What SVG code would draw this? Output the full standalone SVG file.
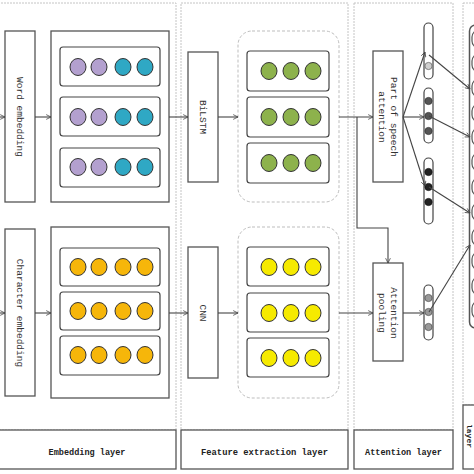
<svg xmlns="http://www.w3.org/2000/svg" width="474" height="474" viewBox="0 0 474 474">
<defs>
<marker id="arr" viewBox="0 0 10 10" refX="9" refY="5" markerWidth="6" markerHeight="6" orient="auto" markerUnits="userSpaceOnUse">
<path d="M1,1 L9,5 L1,9" fill="none" stroke="#444" stroke-width="1.3"/>
</marker>
<style>
.panel{fill:none;stroke:#c4c4c4;stroke-width:1;stroke-dasharray:2,1}
.box{fill:#fff;stroke:#555;stroke-width:1.3}
.row{fill:#fff;stroke:#444;stroke-width:1.2}
.dgrp{fill:none;stroke:#bdbdbd;stroke-width:1;stroke-dasharray:3,2}
.c{stroke:#333;stroke-width:1}
.pu{fill:#b3a0cf}.te{fill:#2fa8c4}.or{fill:#f6b60a}.gr{fill:#8db24c}.ye{fill:#f6ea00}
.cap{fill:#fff;stroke:#444;stroke-width:1.2}
.vt{font-family:"Liberation Mono",monospace;font-size:9.5px;fill:#333}
.lab{font-family:"Liberation Mono",monospace;font-size:9.5px;fill:#222;font-weight:bold}
.ln{fill:none;stroke:#444;stroke-width:1.1}
.cell{fill:#fff;stroke:#555;stroke-width:1.2}
</style>
</defs>
<rect width="474" height="474" fill="#fff"/>

<g id="panels">
<rect class="panel" x="-2" y="3" width="178" height="427"/>
<rect class="panel" x="181" y="3" width="167" height="427"/>
<rect class="panel" x="354" y="3" width="99" height="427"/>
<rect class="panel" x="463" y="3" width="20" height="402"/>
</g>

<g id="word-embedding">
<rect class="box" x="5" y="31" width="30" height="171"/>
<text class="vt" transform="translate(17,117) rotate(90)" text-anchor="middle">Word embedding</text>
</g>
<g id="word-vectors">
<rect class="box" x="51" y="31" width="118" height="171"/>
<rect class="row" x="60" y="47" width="100" height="39" rx="3"/>
<rect class="row" x="60" y="97" width="100" height="39" rx="3"/>
<rect class="row" x="60" y="148" width="100" height="39" rx="3"/>
<ellipse class="c pu" cx="78" cy="67" rx="8" ry="8.5"/><ellipse class="c pu" cx="99" cy="67" rx="8" ry="8.5"/><ellipse class="c te" cx="123" cy="67" rx="8" ry="8.5"/><ellipse class="c te" cx="145" cy="67" rx="8" ry="8.5"/>
<ellipse class="c pu" cx="78" cy="117" rx="8" ry="8.5"/><ellipse class="c pu" cx="99" cy="117" rx="8" ry="8.5"/><ellipse class="c te" cx="123" cy="117" rx="8" ry="8.5"/><ellipse class="c te" cx="145" cy="117" rx="8" ry="8.5"/>
<ellipse class="c pu" cx="78" cy="167" rx="8" ry="8.5"/><ellipse class="c pu" cx="99" cy="167" rx="8" ry="8.5"/><ellipse class="c te" cx="123" cy="167" rx="8" ry="8.5"/><ellipse class="c te" cx="145" cy="167" rx="8" ry="8.5"/>
</g>

<g id="char-embedding">
<rect class="box" x="5" y="229" width="30" height="167"/>
<text class="vt" transform="translate(17,313) rotate(90)" text-anchor="middle">Character embedding</text>
</g>
<g id="char-vectors">
<rect class="box" x="51" y="227" width="118" height="171"/>
<rect class="row" x="60" y="248" width="100" height="38" rx="3"/>
<rect class="row" x="60" y="292" width="100" height="38" rx="3"/>
<rect class="row" x="60" y="336" width="100" height="39" rx="3"/>
<ellipse class="c or" cx="78" cy="267" rx="8" ry="8.5"/><ellipse class="c or" cx="99" cy="267" rx="8" ry="8.5"/><ellipse class="c or" cx="123" cy="267" rx="8" ry="8.5"/><ellipse class="c or" cx="145" cy="267" rx="8" ry="8.5"/>
<ellipse class="c or" cx="78" cy="311" rx="8" ry="8.5"/><ellipse class="c or" cx="99" cy="311" rx="8" ry="8.5"/><ellipse class="c or" cx="123" cy="311" rx="8" ry="8.5"/><ellipse class="c or" cx="145" cy="311" rx="8" ry="8.5"/>
<ellipse class="c or" cx="78" cy="355" rx="8" ry="8.5"/><ellipse class="c or" cx="99" cy="355" rx="8" ry="8.5"/><ellipse class="c or" cx="123" cy="355" rx="8" ry="8.5"/><ellipse class="c or" cx="145" cy="355" rx="8" ry="8.5"/>
</g>

<g id="bilstm">
<rect class="box" x="188" y="52" width="30" height="130"/>
<text class="vt" transform="translate(200,117) rotate(90)" text-anchor="middle">BiLSTM</text>
</g>
<g id="bilstm-out">
<rect class="dgrp" x="238" y="31" width="101" height="171" rx="14"/>
<rect class="row" x="247" y="51" width="82" height="40" rx="3"/>
<rect class="row" x="247" y="97" width="82" height="40" rx="3"/>
<rect class="row" x="247" y="143" width="82" height="40" rx="3"/>
<ellipse class="c gr" cx="269" cy="71" rx="8" ry="8.5"/><ellipse class="c gr" cx="291" cy="71" rx="8" ry="8.5"/><ellipse class="c gr" cx="313" cy="71" rx="8" ry="8.5"/>
<ellipse class="c gr" cx="269" cy="117" rx="8" ry="8.5"/><ellipse class="c gr" cx="291" cy="117" rx="8" ry="8.5"/><ellipse class="c gr" cx="313" cy="117" rx="8" ry="8.5"/>
<ellipse class="c gr" cx="269" cy="163" rx="8" ry="8.5"/><ellipse class="c gr" cx="291" cy="163" rx="8" ry="8.5"/><ellipse class="c gr" cx="313" cy="163" rx="8" ry="8.5"/>
</g>

<g id="cnn">
<rect class="box" x="188" y="247" width="30" height="131"/>
<text class="vt" transform="translate(200,313) rotate(90)" text-anchor="middle">CNN</text>
</g>
<g id="cnn-out">
<rect class="dgrp" x="238" y="227" width="101" height="171" rx="14"/>
<rect class="row" x="247" y="247" width="82" height="39" rx="3"/>
<rect class="row" x="247" y="293" width="82" height="39" rx="3"/>
<rect class="row" x="247" y="338" width="82" height="39" rx="3"/>
<ellipse class="c ye" cx="269" cy="267" rx="8" ry="8.5"/><ellipse class="c ye" cx="291" cy="267" rx="8" ry="8.5"/><ellipse class="c ye" cx="313" cy="267" rx="8" ry="8.5"/>
<ellipse class="c ye" cx="269" cy="313" rx="8" ry="8.5"/><ellipse class="c ye" cx="291" cy="313" rx="8" ry="8.5"/><ellipse class="c ye" cx="313" cy="313" rx="8" ry="8.5"/>
<ellipse class="c ye" cx="269" cy="358" rx="8" ry="8.5"/><ellipse class="c ye" cx="291" cy="358" rx="8" ry="8.5"/><ellipse class="c ye" cx="313" cy="358" rx="8" ry="8.5"/>
</g>

<g id="pos-attention">
<rect class="box" x="373" y="51" width="30" height="131"/>
<text class="vt" transform="translate(391,117) rotate(90)" text-anchor="middle">Part of speech</text>
<text class="vt" transform="translate(379,117) rotate(90)" text-anchor="middle">attention</text>
</g>
<g id="attention-pooling">
<rect class="box" x="373" y="263" width="30" height="98"/>
<text class="vt" transform="translate(391,313) rotate(90)" text-anchor="middle">Attention</text>
<text class="vt" transform="translate(379,313) rotate(90)" text-anchor="middle">pooling</text>
</g>

<g id="capsule-1">
<rect class="cap" x="424" y="23" width="9" height="56" rx="4.5"/>
<circle cx="428.5" cy="66" r="3.6" fill="#cfcfcf" stroke="#666" stroke-width="0.8"/>
</g>
<g id="capsule-2">
<rect class="cap" x="424" y="88" width="9" height="55" rx="4.5"/>
<circle cx="428.5" cy="101" r="3.6" fill="#555" stroke="#333" stroke-width="0.8"/>
<circle cx="428.5" cy="116" r="3.6" fill="#555" stroke="#333" stroke-width="0.8"/>
<circle cx="428.5" cy="131" r="3.6" fill="#555" stroke="#333" stroke-width="0.8"/>
</g>
<g id="capsule-3">
<rect class="cap" x="424" y="158" width="9" height="66" rx="4.5"/>
<circle cx="428.5" cy="172" r="3.6" fill="#222" stroke="#111" stroke-width="0.8"/>
<circle cx="428.5" cy="187" r="3.6" fill="#222" stroke="#111" stroke-width="0.8"/>
<circle cx="428.5" cy="202" r="3.6" fill="#222" stroke="#111" stroke-width="0.8"/>
</g>
<g id="capsule-4">
<rect class="cap" x="424" y="285" width="9" height="55" rx="4.5"/>
<circle cx="428.5" cy="298" r="3.6" fill="#999" stroke="#555" stroke-width="0.8"/>
<circle cx="428.5" cy="312" r="3.6" fill="#999" stroke="#555" stroke-width="0.8"/>
<circle cx="428.5" cy="327" r="3.6" fill="#999" stroke="#555" stroke-width="0.8"/>
</g>

<g id="output-column">
<rect x="469.5" y="25" width="20" height="303" rx="6" fill="#fff" stroke="#555" stroke-width="1.5"/>
<rect class="cell" x="472" y="30" width="15" height="18" rx="7"/>
<rect class="cell" x="472" y="54" width="15" height="18" rx="7"/>
<rect class="cell" x="472" y="79" width="15" height="18" rx="7"/>
<rect class="cell" x="472" y="104" width="15" height="18" rx="7"/>
<rect class="cell" x="472" y="128" width="15" height="18" rx="7"/>
<rect class="cell" x="472" y="153" width="15" height="18" rx="7"/>
<rect class="cell" x="472" y="178" width="15" height="18" rx="7"/>
<rect class="cell" x="472" y="203" width="15" height="18" rx="7"/>
<rect class="cell" x="472" y="228" width="15" height="18" rx="7"/>
<rect class="cell" x="472" y="252" width="15" height="18" rx="7"/>
<rect class="cell" x="472" y="277" width="15" height="18" rx="7"/>
<rect class="cell" x="472" y="301" width="15" height="18" rx="7"/>
</g>

<g id="connectors">
<line class="ln" x1="-2" y1="117" x2="5" y2="117" marker-end="url(#arr)"/>
<line class="ln" x1="35" y1="117" x2="51" y2="117" marker-end="url(#arr)"/>
<line class="ln" x1="-2" y1="313" x2="5" y2="313" marker-end="url(#arr)"/>
<line class="ln" x1="35" y1="313" x2="51" y2="313" marker-end="url(#arr)"/>
<line class="ln" x1="169" y1="117" x2="188" y2="117" marker-end="url(#arr)"/>
<line class="ln" x1="218" y1="117" x2="238" y2="117" marker-end="url(#arr)"/>
<line class="ln" x1="169" y1="313" x2="188" y2="313" marker-end="url(#arr)"/>
<line class="ln" x1="218" y1="313" x2="238" y2="313" marker-end="url(#arr)"/>
<line class="ln" x1="339" y1="117" x2="373" y2="117" marker-end="url(#arr)"/>
<polyline class="ln" points="357,117 357,228 388,228 388,263" marker-end="url(#arr)"/>
<line class="ln" x1="339" y1="313" x2="373" y2="313" marker-end="url(#arr)"/>
<line class="ln" x1="403" y1="117" x2="425" y2="52" marker-end="url(#arr)"/>
<line class="ln" x1="403" y1="117" x2="424" y2="117" marker-end="url(#arr)"/>
<line class="ln" x1="403" y1="117" x2="425" y2="186" marker-end="url(#arr)"/>
<line class="ln" x1="403" y1="313" x2="424" y2="313" marker-end="url(#arr)"/>
<line class="ln" x1="429" y1="55" x2="470" y2="89" marker-end="url(#arr)"/>
<line class="ln" x1="429" y1="116" x2="470" y2="137" marker-end="url(#arr)"/>
<line class="ln" x1="429" y1="187" x2="470" y2="213" marker-end="url(#arr)"/>
<line class="ln" x1="429" y1="312" x2="470" y2="245" marker-end="url(#arr)"/>
</g>

<g id="layer-labels">
<rect class="box" x="-2" y="430" width="178" height="39"/>
<text class="lab" x="87" y="455" text-anchor="middle" textLength="77" lengthAdjust="spacingAndGlyphs">Embedding layer</text>
<rect class="box" x="181" y="430" width="167" height="39"/>
<text class="lab" x="264.5" y="455" text-anchor="middle" textLength="127" lengthAdjust="spacingAndGlyphs">Feature extraction layer</text>
<rect class="box" x="354" y="430" width="99" height="39"/>
<text class="lab" x="403.5" y="455" text-anchor="middle" textLength="77" lengthAdjust="spacingAndGlyphs">Attention layer</text>
<rect class="box" x="463" y="405" width="30" height="64"/>
<text class="lab" transform="translate(466.5,436) rotate(90)" text-anchor="middle" style="font-size:8px">layer</text>
</g>
</svg>
